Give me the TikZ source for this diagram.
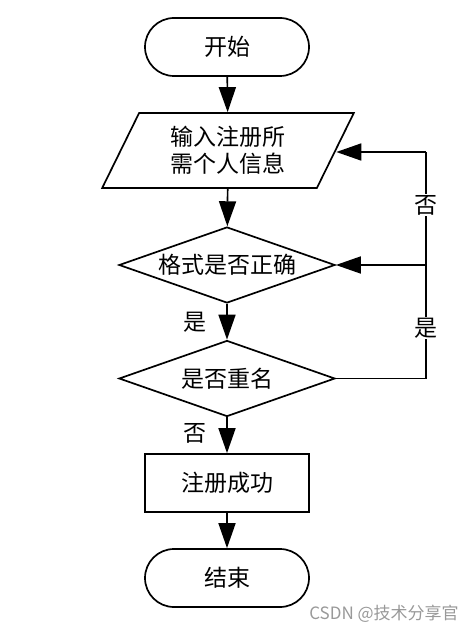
\documentclass[tikz,border=0pt]{standalone}
\usepackage{fontspec}
\setmainfont{Noto Sans CJK SC}
\usetikzlibrary{arrows.meta,shapes.geometric}
\begin{document}
\begin{tikzpicture}[x=1pt,y=-1pt,
  every node/.style={font=\fontsize{23}{27}\selectfont},
  base/.style={draw,line width=1.7pt,inner sep=0pt},
  term/.style={base,rectangle,rounded corners=29pt,minimum width=164pt,minimum height=58pt},
  proc/.style={base,rectangle,minimum width=164pt,minimum height=58pt},
  dec/.style={base,diamond,shape aspect=2.84,minimum width=216pt,minimum height=76pt},
  io/.style={base,trapezium,trapezium left angle=63.7,trapezium right angle=116.3,trapezium stretches=true,minimum width=252pt,minimum height=75pt,align=center},
  conn/.style={line width=1.7pt,-{Triangle[length=25pt,width=17pt]}},
  line/.style={line width=1.7pt},
  lab/.style={fill=white,inner sep=1pt}
]
\useasboundingbox (0,0) rectangle (474,631);
\node[term] (start) at (227,47) {开始};
\node[io] (in) at (228,150.5) {输入注册所\\需个人信息};
\node[dec] (d1) at (227,265) {格式是否正确};
\node[dec] (d2) at (227,378.5) {是否重名};
\node[proc] (ok) at (227,483) {注册成功};
\node[term] (end) at (227,578) {结束};
\coordinate (c1) at (426,378.5);
\coordinate (c2) at (426,152);
\coordinate (c3) at (426,265);
\draw[conn] (start) -- (in);
\draw[conn] (in) -- (d1);
\draw[conn] (d1) -- (d2);
\draw[conn] (d2) -- (ok);
\draw[conn] (ok) -- (end);
\draw[line] (d2.east) -- (c1) -- (c2);
\draw[conn] (c2) -- (in.east |- c2);
\draw[conn] (c3) -- (d1.east);
\node[lab] (yes1) at (195,322) {是};
\node[lab] (no1) at (195,433) {否};
\node[lab] (no2) at (426,205) {否};
\node[lab] (yes2) at (426,328) {是};
\node[text=black!40,font=\fontsize{17}{19}\selectfont] (wm) at (384,614) {CSDN @技术分享官};
\end{tikzpicture}
\end{document}
